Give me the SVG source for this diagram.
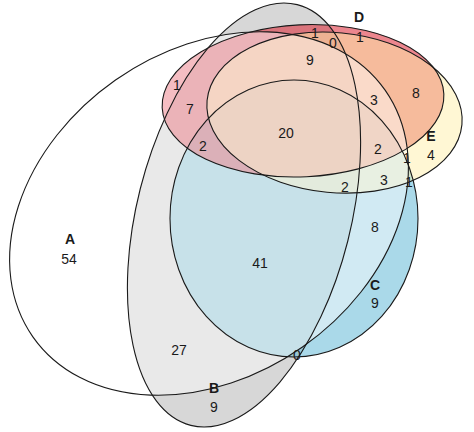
<svg xmlns="http://www.w3.org/2000/svg" xmlns:xlink="http://www.w3.org/1999/xlink" width="474" height="432" viewBox="0 0 474 432">
  <style>
    text { font-family: "Liberation Sans", Arial, sans-serif; font-size: 14px; fill: #1a1a1a; text-anchor: middle; }
    .lbl { font-weight: bold; }
    .outline { fill: none; stroke: #1a1a1a; stroke-width: 1.1; }
  </style>
  <defs>
    <ellipse id="shapeA" cx="209" cy="213.5" rx="215" ry="163" transform="rotate(-35 209 213.5)"/>
    <ellipse id="shapeB" cx="244" cy="215" rx="107" ry="217" transform="rotate(14.2 244 215)"/>
    <ellipse id="shapeC" cx="294" cy="218.5" rx="124" ry="138.5"/>
    <ellipse id="shapeD" cx="303" cy="100.8" rx="141" ry="76" transform="rotate(-2.8 303 100.8)"/>
    <ellipse id="shapeE" cx="334.5" cy="112.6" rx="128" ry="80" transform="rotate(5.4 334.5 112.6)"/>
  </defs>
  <rect width="474" height="432" fill="#ffffff"/>
  <g id="setB">
    <use xlink:href="#shapeB" fill="#afafaf" fill-opacity="0.5"/>
  </g>
  <g id="setC">
    <use xlink:href="#shapeC" fill="#64b9d7" fill-opacity="0.55"/>
  </g>
  <g id="setD">
    <use xlink:href="#shapeD" fill="#dc2332" fill-opacity="0.55"/>
  </g>
  <g id="setE">
    <use xlink:href="#shapeE" fill="#fff0aa" fill-opacity="0.5"/>
  </g>
  <g id="setA">
    <use xlink:href="#shapeA" fill="#ffffff" fill-opacity="0.46"/>
  </g>
  <g id="connectors">
    <use xlink:href="#shapeA" class="outline"/>
    <use xlink:href="#shapeB" class="outline"/>
    <use xlink:href="#shapeC" class="outline"/>
    <use xlink:href="#shapeD" class="outline"/>
    <use xlink:href="#shapeE" class="outline"/>
  </g>
  <g id="labelA"><text class="lbl" x="70" y="244">A</text><text x="69" y="264">54</text></g>
  <g id="labelB"><text class="lbl" x="214" y="393">B</text><text x="214" y="412">9</text></g>
  <g id="labelC"><text class="lbl" x="375" y="290">C</text><text x="375" y="308">9</text></g>
  <g id="labelD"><text class="lbl" x="359" y="22">D</text></g>
  <g id="labelE"><text class="lbl" x="431" y="141">E</text><text x="431" y="160">4</text></g>
  <g id="counts">
    <text x="177" y="90">1</text>
    <text x="190" y="114">7</text>
    <text x="203" y="151">2</text>
    <text x="310" y="65">9</text>
    <text x="286" y="138">20</text>
    <text x="374" y="105">3</text>
    <text x="416" y="98">8</text>
    <text x="315" y="38">1</text>
    <text x="333" y="48">0</text>
    <text x="360" y="42">1</text>
    <text x="378" y="154">2</text>
    <text x="407" y="163">1</text>
    <text x="409" y="187">1</text>
    <text x="384" y="185">3</text>
    <text x="345" y="192">2</text>
    <text x="375" y="232">8</text>
    <text x="260" y="268">41</text>
    <text x="179" y="355">27</text>
    <text x="297" y="360">0</text>
  </g>
</svg>
